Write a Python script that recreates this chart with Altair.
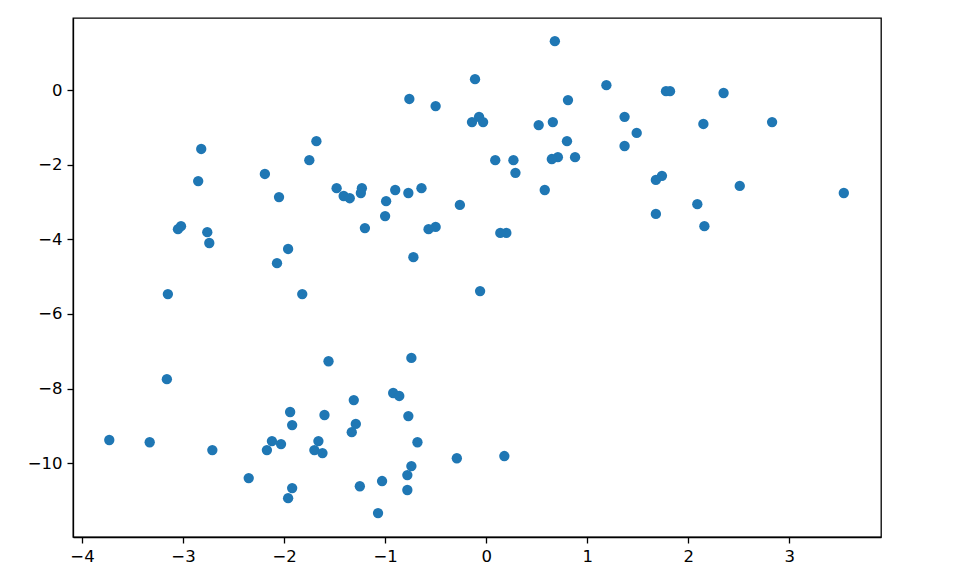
import altair as alt
import pandas as pd

xs = [0.68, -0.11, 1.19, 1.78, 1.82, 2.35, -0.76, 0.81, -0.50, 1.37,
      -0.07, -0.14, -0.03, 0.66, 0.52, 2.15, 2.83, 1.49, 0.80, -1.68,
      1.37, -2.82, 0.88, 0.71, 0.65, -1.75, 0.09, 0.27, 0.29, -2.19,
      1.74, 1.68, -2.85, 2.51, -1.48, -1.23, -0.64, -0.90, 0.58, -1.24,
      -0.77, 3.54, -1.41, -1.35, -2.05, -0.99, 2.09, -0.26, 1.68, -1.00,
      -3.02, -3.05, 2.16, -1.20, -0.50, -0.57, -2.76, 0.20, 0.14, -2.74,
      -1.96, -0.72, -2.07, -0.06, -3.15, -1.82,
      -1.56, -0.74, -3.16, -0.92, -0.86, -1.31, -1.94, -1.60, -0.77, -1.29,
      -1.92, -1.33, -3.73, -3.33, -0.68, -2.12, -1.66, -2.03, -2.71, -2.17,
      -1.70, -1.62, -0.29, 0.18, -0.74, -0.78, -2.35, -1.03, -1.25, -1.92,
      -0.78, -1.96, -1.07]
ys = [1.31, 0.29, 0.13, -0.03, -0.03, -0.08, -0.24, -0.27, -0.43, -0.72,
      -0.72, -0.86, -0.86, -0.86, -0.94, -0.91, -0.86, -1.15, -1.37, -1.37,
      -1.50, -1.58, -1.80, -1.80, -1.85, -1.88, -1.88, -1.88, -2.22, -2.25,
      -2.30, -2.41, -2.44, -2.57, -2.63, -2.63, -2.63, -2.68, -2.68, -2.76,
      -2.76, -2.76, -2.84, -2.90, -2.87, -2.98, -3.06, -3.08, -3.32, -3.38,
      -3.65, -3.73, -3.65, -3.70, -3.67, -3.73, -3.81, -3.83, -3.83, -4.10,
      -4.26, -4.48, -4.64, -5.39, -5.47, -5.47,
      -7.27, -7.18, -7.75, -8.12, -8.20, -8.31, -8.63, -8.71, -8.74, -8.95,
      -8.98, -9.17, -9.38, -9.44, -9.44, -9.41, -9.41, -9.49, -9.65, -9.65,
      -9.65, -9.73, -9.87, -9.81, -10.08, -10.32, -10.40, -10.48, -10.62, -10.67,
      -10.72, -10.94, -11.34]

x_ticks = [-4, -3, -2, -1, 0, 1, 2, 3]
y_ticks = [-10, -8, -6, -4, -2, 0]

df = pd.DataFrame({"x": xs, "y": ys})

axis_common = dict(
    grid=False, domainColor="black", tickColor="black", tickSize=6,
    labelColor="black", labelFont="DejaVu Sans", labelFontSize=16.5,
    labelPadding=5, title=None, domainWidth=1.3, tickWidth=1.3,
)

chart = alt.Chart(df).mark_circle(size=107, opacity=1, color="#1f77b4").encode(
    x=alt.X("x:Q", scale=alt.Scale(domain=[-4.089, 3.908], nice=False, zero=False),
            axis=alt.Axis(values=x_ticks, **axis_common)),
    y=alt.Y("y:Q", scale=alt.Scale(domain=[-11.98, 1.93], nice=False, zero=False),
            axis=alt.Axis(values=y_ticks, **axis_common)),
).properties(
    width=808, height=519,
    autosize=alt.AutoSizeParams(type="none"),
    padding={"left": 65, "top": 10, "right": 20, "bottom": 30},
).configure_view(stroke="black", strokeWidth=1.3)

chart.save("out.html", embed_options={"renderer": "svg", "actions": False})
